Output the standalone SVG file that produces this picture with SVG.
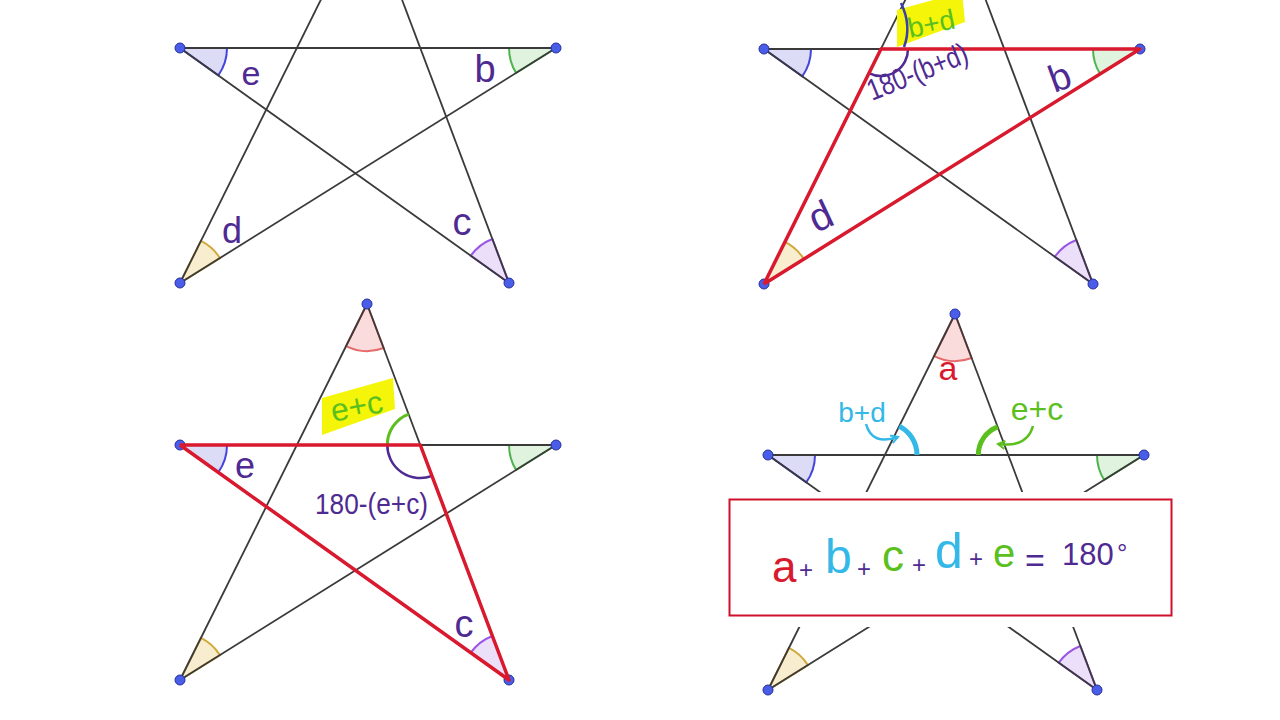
<svg xmlns="http://www.w3.org/2000/svg" xmlns:xlink="http://www.w3.org/1999/xlink" width="1280" height="720" viewBox="0 0 1280 720">
<style>
.ln{stroke:#3a3a3a;stroke-width:1.8;fill:none}
.pt{fill:#4a5de8;stroke:#25309a;stroke-width:1}
.sL{fill:#dcdcf6;stroke:#4545dc;stroke-width:2}
.sR{fill:#dff3df;stroke:#4fb44f;stroke-width:2}
.sP{fill:#f8edcf;stroke:#cfa93a;stroke-width:2}
.sQ{fill:#ecdff9;stroke:#9a55e6;stroke-width:2}
.sA{fill:#fadcdc;stroke:#e66a6a;stroke-width:2}
.red{stroke:#d8192e;stroke-width:3.5;fill:none;stroke-linejoin:round}
.t{font-family:"Liberation Sans",Arial,sans-serif}
.pu{fill:#4f2a92}
.gr{fill:#5bbf1e}
.cy{fill:#33b8e8}
.rd{fill:#d8192e}
.hl{fill:#f5f50a}
.apu{stroke:#4f2a92;stroke-width:2.5;fill:none}
.agr{stroke:#5bbf1e;fill:none}
.acy{stroke:#33b8e8;fill:none}
</style>
<defs>
<marker id="mcy" viewBox="0 0 10 10" refX="8" refY="5" markerWidth="4" markerHeight="4" orient="auto"><path d="M1,1 L8,5 L1,9" fill="none" stroke="#33b8e8" stroke-width="2"/></marker>
<marker id="mgr" viewBox="0 0 10 10" refX="8" refY="5" markerWidth="4" markerHeight="4" orient="auto"><path d="M1,1 L8,5 L1,9" fill="none" stroke="#5bbf1e" stroke-width="2"/></marker>
<g id="sectors">
<path class="sL" d="M180,445 L227,445 A47,47 0 0,1 218.3,472.3 Z"/>
<path class="sR" d="M556,445 L516.1,469.9 A47,47 0 0,1 509,445 Z"/>
<path class="sP" d="M180,680 L200.9,637.9 A47,47 0 0,1 219.9,655.1 Z"/>
<path class="sQ" d="M509,680 L470.8,652.7 A47,47 0 0,1 492.4,636 Z"/>
<path class="sA" d="M367,304 L383.6,348 A47,47 0 0,1 346.1,346.1 Z"/>
</g>
<g id="lines">
<line class="ln" x1="180" y1="445" x2="556" y2="445"/>
<line class="ln" x1="180" y1="445" x2="509" y2="680"/>
<line class="ln" x1="556" y1="445" x2="180" y2="680"/>
<line class="ln" x1="180" y1="680" x2="367" y2="304"/>
<line class="ln" x1="367" y1="304" x2="509" y2="680"/>
</g>
<g id="pts">
<circle class="pt" cx="180" cy="445" r="5"/>
<circle class="pt" cx="556" cy="445" r="5"/>
<circle class="pt" cx="180" cy="680" r="5"/>
<circle class="pt" cx="509" cy="680" r="5"/>
<circle class="pt" cx="367" cy="304" r="5"/>
</g>
</defs>
<rect x="0" y="0" width="1280" height="720" fill="#ffffff"/>

<g id="star-top-left">
<g transform="translate(0,-397)">
<use xlink:href="#sectors"/><use xlink:href="#lines"/><use xlink:href="#pts"/>
</g>
<text class="t pu" x="251" y="85" font-size="34" text-anchor="middle">e</text>
<text class="t pu" x="485" y="82" font-size="38" text-anchor="middle">b</text>
<text class="t pu" x="232" y="243" font-size="36" text-anchor="middle">d</text>
<text class="t pu" x="462" y="235" font-size="38" text-anchor="middle">c</text>
</g>

<g id="star-top-right">
<g transform="translate(584,-396)">
<use xlink:href="#sectors"/><use xlink:href="#lines"/><use xlink:href="#pts"/>
</g>
<polygon class="hl" points="897,10 962,-8 965,22 897,47"/>
<text class="t gr" x="910" y="38" font-size="28" transform="rotate(-12 910 38)">b+d</text>
<path d="M901,3 Q912,26 904,47" stroke="#3a3fa8" stroke-width="2.5" fill="none"/>
<path class="apu" d="M908,49 A27,27 0 0,1 868.8,73.1"/>
<polyline class="red" points="764,284 881,49 1140,49 764,284"/>
<text class="t pu" x="872" y="101" font-size="30" transform="rotate(-22 872 101)" textLength="106" lengthAdjust="spacingAndGlyphs">180-(b+d)</text>
<text class="t pu" x="1060" y="90" font-size="38" text-anchor="middle" transform="rotate(-20 1060 78)">b</text>
<text class="t pu" x="820" y="230" font-size="40" text-anchor="middle" transform="rotate(-25 820 215)">d</text>
</g>

<g id="star-bottom-left">
<use xlink:href="#sectors"/><use xlink:href="#lines"/><use xlink:href="#pts"/>
<polygon class="hl" points="322,398 393,378 395,409 322,435"/>
<text class="t gr" x="333" y="422" font-size="32" transform="rotate(-11 333 422)">e+c</text>
<path class="agr" stroke-width="3" d="M387.3,445 A33,33 0 0,1 408.7,414.1"/>
<path class="apu" d="M387.3,445 A33,33 0 0,0 432,475.9"/>
<polyline class="red" points="180,445 420.3,445 509,680 180,445"/>
<text class="t pu" x="245" y="478" font-size="36" text-anchor="middle">e</text>
<text class="t pu" x="464" y="637" font-size="38" text-anchor="middle">c</text>
<text class="t pu" x="315" y="514" font-size="30" textLength="113" lengthAdjust="spacingAndGlyphs">180-(e+c)</text>
</g>

<g id="star-bottom-right">
<g transform="translate(588,10)">
<use xlink:href="#sectors"/><use xlink:href="#lines"/><use xlink:href="#pts"/>
</g>
<text class="t rd" x="948" y="380" font-size="34" text-anchor="middle">a</text>
<path class="acy" stroke-width="5" d="M899.2,426.3 A32,32 0 0,1 917,455"/>
<path class="agr" stroke-width="5" d="M997.7,426.9 A30,30 0 0,0 978.3,455"/>
<text class="t cy" x="862" y="422" font-size="28" text-anchor="middle">b+d</text>
<text class="t gr" x="1037" y="420" font-size="32" text-anchor="middle">e+c</text>
<path class="acy" stroke-width="2.5" d="M866,424 Q872,446 898,437" marker-end="url(#mcy)"/>
<path class="agr" stroke-width="2.5" d="M1033,426 Q1027,448 998,444" marker-end="url(#mgr)"/>
</g>

<g id="equation-box">
<rect x="724" y="492" width="452" height="135" fill="#ffffff"/>
<rect x="729.5" y="499.5" width="442" height="116" fill="#ffffff" stroke="#d0102a" stroke-width="2"/>
<text class="t" font-size="42">
<tspan class="rd" x="772" y="582" font-size="44">a</tspan>
<tspan class="pu" x="799" y="578" font-size="24">+</tspan>
<tspan class="cy" x="825" y="573" font-size="48">b</tspan>
<tspan class="pu" x="857" y="577" font-size="24">+</tspan>
<tspan class="gr" x="882" y="571" font-size="44">c</tspan>
<tspan class="pu" x="912" y="573" font-size="24">+</tspan>
<tspan class="cy" x="935" y="568" font-size="50">d</tspan>
<tspan class="pu" x="969" y="567" font-size="24">+</tspan>
<tspan class="gr" x="993" y="567" font-size="40">e</tspan>
<tspan class="pu" x="1025" y="572" font-size="34">=</tspan>
<tspan class="pu" x="1062" y="565" font-size="31">180</tspan>
</text>
<text class="t pu" x="1117" y="562" font-size="26">°</text>
</g>
</svg>
